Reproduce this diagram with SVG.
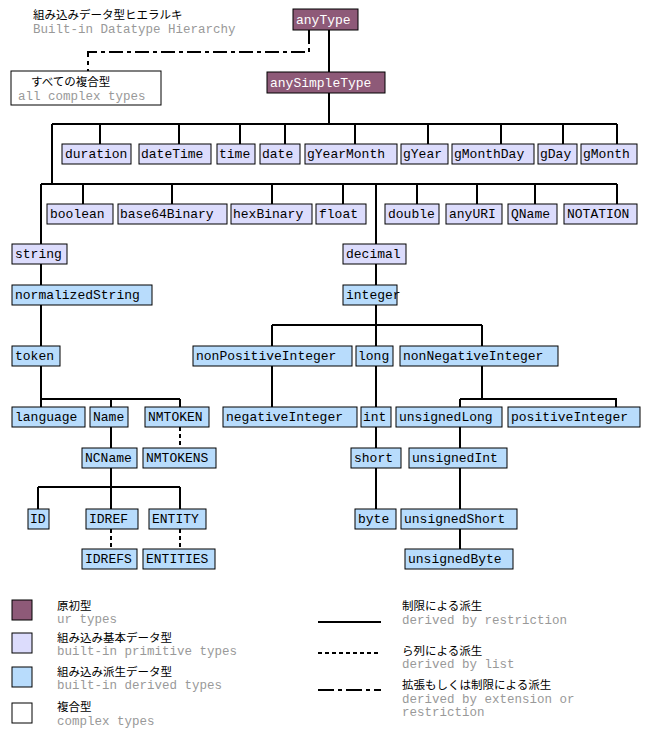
<svg xmlns="http://www.w3.org/2000/svg" width="649" height="737" viewBox="0 0 649 737">
<style>
rect{stroke:#000;stroke-width:1}
.u{fill:#8e5a78}.p{fill:#dcdcfc}.d{fill:#b8dcfc}.c{fill:#fff}
text{font-family:"Liberation Mono",monospace;font-size:13px}
.ut{fill:#fff}
.j{font-family:"Noto Sans CJK JP",sans-serif;font-size:11.5px;fill:#000}
.e{fill:#999;font-size:12.5px}
#conn path{fill:none;stroke:#000;stroke-width:2}
.ls{stroke-dasharray:4,3}
.ext{stroke-dasharray:14,4,4,4}
</style>
<text class="j" x="33" y="19">組み込みデータ型ヒエラルキ</text>
<text class="e" x="33" y="33">Built-in Datatype Hierarchy</text>
<g id="conn">
<path class="ext" d="M309 30V52H88V72"/>
<path d="M329 30V72M329 93V124M52 124H617M100 124V144M179 124V144M240 124V144M285 124V144M355 124V144M428 124V144M501 124V144M563 124V144M617 124V144"/>
<path d="M52 124V184M41 184H617M83 184V204M172 184V204M272 184V204M343 184V204M417 184V204M477 184V204M535 184V204M617 184V204M41 184V244M376 184V244"/>
<path d="M41 264V285M41 305V346M376 264V285M376 305V325M272 325H482M272 325V346M376 325V346M482 325V346"/>
<path d="M41 366V399H180M41 399V407M111 399V407M180 399V407M272 366V407M376 366V407M482 366V399M460 399H616V407M460 399V407"/>
<path d="M111 427V448M376 427V448M460 427V448M111 468V487M38 487H180M38 487V509M111 487V509M180 487V509M376 468V509M460 468V509M460 529V549"/>
<path class="ls" d="M180 427V448M111 529V549M180 529V549"/>
</g>
<g id="anyType"><rect class="u" x="293" y="9" width="65" height="21"/><text class="ut" x="296" y="24">anyType</text></g>
<g id="complex"><rect class="c" x="11" y="71" width="150" height="34"/><text class="j" x="31" y="86">すべての複合型</text><text class="e" x="18" y="100">all complex types</text></g>
<g id="anySimpleType"><rect class="u" x="267" y="72" width="118" height="21"/><text class="ut" x="270" y="87">anySimpleType</text></g>
<g id="duration"><rect class="p" x="62" y="144" width="69" height="20"/><text x="65" y="158">duration</text></g>
<g id="dateTime"><rect class="p" x="139" y="144" width="72" height="20"/><text x="141" y="158">dateTime</text></g>
<g id="time"><rect class="p" x="217" y="144" width="38" height="20"/><text x="219" y="158">time</text></g>
<g id="date"><rect class="p" x="260" y="144" width="40" height="20"/><text x="262" y="158">date</text></g>
<g id="gYearMonth"><rect class="p" x="305" y="144" width="92" height="20"/><text x="307" y="158">gYearMonth</text></g>
<g id="gYear"><rect class="p" x="401" y="144" width="47" height="20"/><text x="403" y="158">gYear</text></g>
<g id="gMonthDay"><rect class="p" x="452" y="144" width="82" height="20"/><text x="454" y="158">gMonthDay</text></g>
<g id="gDay"><rect class="p" x="538" y="144" width="39" height="20"/><text x="540" y="158">gDay</text></g>
<g id="gMonth"><rect class="p" x="581" y="144" width="56" height="20"/><text x="583" y="158">gMonth</text></g>
<g id="boolean"><rect class="p" x="47" y="204" width="66" height="20"/><text x="50" y="218">boolean</text></g>
<g id="base64Binary"><rect class="p" x="118" y="204" width="109" height="20"/><text x="120" y="218">base64Binary</text></g>
<g id="hexBinary"><rect class="p" x="231" y="204" width="81" height="20"/><text x="233" y="218">hexBinary</text></g>
<g id="float"><rect class="p" x="316" y="204" width="50" height="20"/><text x="319" y="218">float</text></g>
<g id="double"><rect class="p" x="385" y="204" width="54" height="20"/><text x="388" y="218">double</text></g>
<g id="anyURI"><rect class="p" x="446" y="204" width="56" height="20"/><text x="449" y="218">anyURI</text></g>
<g id="QName"><rect class="p" x="508" y="204" width="49" height="20"/><text x="511" y="218">QName</text></g>
<g id="NOTATION"><rect class="p" x="564" y="204" width="73" height="20"/><text x="567" y="218">NOTATION</text></g>
<g id="string"><rect class="p" x="12" y="244" width="55" height="20"/><text x="15" y="258">string</text></g>
<g id="decimal"><rect class="p" x="343" y="244" width="63" height="20"/><text x="346" y="258">decimal</text></g>
<g id="normalizedString"><rect class="d" x="12" y="285" width="140" height="20"/><text x="15" y="299">normalizedString</text></g>
<g id="integer"><rect class="d" x="343" y="285" width="54" height="20"/><text x="346" y="299">integer</text></g>
<g id="token"><rect class="d" x="12" y="346" width="48" height="20"/><text x="15" y="360">token</text></g>
<g id="nonPositiveInteger"><rect class="d" x="193" y="346" width="159" height="20"/><text x="196" y="360">nonPositiveInteger</text></g>
<g id="long"><rect class="d" x="356" y="346" width="37" height="20"/><text x="358" y="360">long</text></g>
<g id="nonNegativeInteger"><rect class="d" x="400" y="346" width="158" height="20"/><text x="403" y="360">nonNegativeInteger</text></g>
<g id="language"><rect class="d" x="12" y="407" width="73" height="20"/><text x="15" y="421">language</text></g>
<g id="Name"><rect class="d" x="90" y="407" width="38" height="20"/><text x="93" y="421">Name</text></g>
<g id="NMTOKEN"><rect class="d" x="145" y="407" width="64" height="20"/><text x="148" y="421">NMTOKEN</text></g>
<g id="negativeInteger"><rect class="d" x="223" y="407" width="134" height="20"/><text x="226" y="421">negativeInteger</text></g>
<g id="int"><rect class="d" x="361" y="407" width="30" height="20"/><text x="363" y="421">int</text></g>
<g id="unsignedLong"><rect class="d" x="396" y="407" width="106" height="20"/><text x="399" y="421">unsignedLong</text></g>
<g id="positiveInteger"><rect class="d" x="508" y="407" width="132" height="20"/><text x="511" y="421">positiveInteger</text></g>
<g id="NCName"><rect class="d" x="82" y="448" width="55" height="20"/><text x="85" y="462">NCName</text></g>
<g id="NMTOKENS"><rect class="d" x="143" y="448" width="73" height="20"/><text x="146" y="462">NMTOKENS</text></g>
<g id="short"><rect class="d" x="351" y="448" width="50" height="20"/><text x="354" y="462">short</text></g>
<g id="unsignedInt"><rect class="d" x="409" y="448" width="98" height="20"/><text x="412" y="462">unsignedInt</text></g>
<g id="ID"><rect class="d" x="28" y="509" width="21" height="20"/><text x="30" y="523">ID</text></g>
<g id="IDREF"><rect class="d" x="86" y="509" width="52" height="20"/><text x="89" y="523">IDREF</text></g>
<g id="ENTITY"><rect class="d" x="149" y="509" width="57" height="20"/><text x="152" y="523">ENTITY</text></g>
<g id="byte"><rect class="d" x="355" y="509" width="41" height="20"/><text x="358" y="523">byte</text></g>
<g id="unsignedShort"><rect class="d" x="401" y="509" width="116" height="20"/><text x="404" y="523">unsignedShort</text></g>
<g id="IDREFS"><rect class="d" x="82" y="549" width="55" height="20"/><text x="85" y="563">IDREFS</text></g>
<g id="ENTITIES"><rect class="d" x="143" y="549" width="72" height="20"/><text x="146" y="563">ENTITIES</text></g>
<g id="unsignedByte"><rect class="d" x="405" y="549" width="108" height="20"/><text x="408" y="563">unsignedByte</text></g>
<g id="legend">
<rect class="u" x="12" y="600" width="20" height="20"/><text class="j" x="57" y="610">原初型</text><text class="e" x="57" y="623">ur types</text>
<rect class="p" x="12" y="633" width="20" height="20"/><text class="j" x="57" y="642">組み込み基本データ型</text><text class="e" x="57" y="655">built-in primitive types</text>
<rect class="d" x="12" y="667" width="20" height="20"/><text class="j" x="57" y="676">組み込み派生データ型</text><text class="e" x="57" y="689">built-in derived types</text>
<rect class="c" x="12" y="703" width="20" height="20"/><text class="j" x="57" y="711">複合型</text><text class="e" x="57" y="725">complex types</text>
<g id="conn-legend" fill="none" stroke="#000" stroke-width="2">
<path d="M318 622H381"/><path d="M318 653H381" stroke-dasharray="4,3"/><path d="M318 690H381" stroke-dasharray="16,4,4,4"/>
</g>
<text class="j" x="402" y="610">制限による派生</text><text class="e" x="402" y="624">derived by restriction</text>
<text class="j" x="402" y="655">ら列による派生</text><text class="e" x="402" y="668">derived by list</text>
<text class="j" x="402" y="689">拡張もしくは制限による派生</text><text class="e" x="402" y="703">derived by extension or</text><text class="e" x="402" y="716">restriction</text>
</g>
</svg>
